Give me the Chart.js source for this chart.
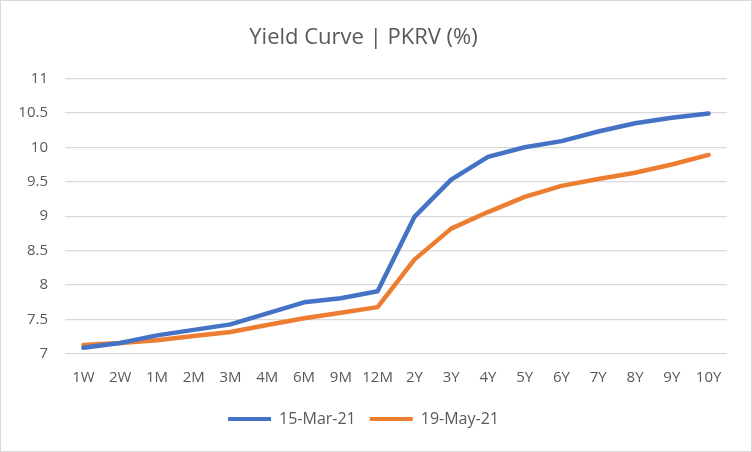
<!DOCTYPE html>
<html>
<head>
<meta charset="utf-8">
<script src="https://cdn.jsdelivr.net/npm/chart.js@4/dist/chart.umd.min.js"></script>
<style>
html,body{margin:0;padding:0;background:#fff;}
#wrap{width:752px;height:452px;position:relative;}
</style>
</head>
<body>
<div id="wrap"><canvas id="c" width="752" height="452"></canvas></div>
<script>
const categories = ["1W","2W","1M","2M","3M","4M","6M","9M","12M","2Y","3Y","4Y","5Y","6Y","7Y","8Y","9Y","10Y"];
const mar21 = [7.09,7.16,7.27,7.35,7.43,7.59,7.75,7.81,7.91,8.99,9.53,9.86,10.00,10.09,10.23,10.35,10.43,10.49];
const may21 = [7.13,7.16,7.20,7.26,7.32,7.42,7.52,7.60,7.68,8.37,8.82,9.06,9.28,9.44,9.54,9.63,9.75,9.89];
const seriesNames = ["15-Mar-21","19-May-21"];
const titleText = "Yield Curve | PKRV (%)";

const FONT = "'Open Sans', 'Liberation Sans', sans-serif";
const TXT = '#595959';

const borderPlugin = {
  id: 'outerBorder',
  afterDraw(chart){
    const ctx = chart.ctx;
    ctx.save();
    ctx.strokeStyle = '#d9d9d9';
    ctx.lineWidth = 1;
    ctx.strokeRect(0.5,0.5,chart.width-1,chart.height-1);
    ctx.restore();
  }
};

new Chart(document.getElementById('c'), {
  type: 'line',
  data: {
    labels: categories,
    datasets: [
      {label: seriesNames[0], data: mar21, borderColor:'#4472C4', backgroundColor:'#4472C4', borderWidth:4.5, pointRadius:0, tension:0, borderCapStyle:'round', borderJoinStyle:'round'},
      {label: seriesNames[1], data: may21, borderColor:'#ED7D31', backgroundColor:'#ED7D31', borderWidth:4.5, pointRadius:0, tension:0, borderCapStyle:'round', borderJoinStyle:'round'}
    ]
  },
  options: {
    responsive:false,
    animation:false,
    devicePixelRatio:1,
    layout:{padding:{left:0,right:25,top:0,bottom:15}},
    plugins:{
      title:{display:true,text:titleText,color:TXT,font:{family:FONT,size:22,weight:'normal'},padding:{top:25,bottom:27}},
      legend:{
        position:'bottom',
        labels:{
          color:TXT,
          font:{family:FONT,size:16},
          boxWidth:43,boxHeight:4,padding:14,
          generateLabels(chart){
            return chart.data.datasets.map((d,i)=>({text:d.label,fillStyle:d.borderColor,strokeStyle:d.borderColor,lineWidth:0,datasetIndex:i,fontColor:TXT}));
          }
        }
      },
      tooltip:{enabled:false}
    },
    scales:{
      x:{
        offset:true,
        grid:{display:false,drawTicks:false,offset:true},
        border:{display:false},
        ticks:{color:TXT,font:{family:FONT,size:15},padding:15,maxRotation:0,autoSkip:false},
        afterFit(s){s.height=43;}
      },
      y:{
        min:7,max:11,
        grid:{color:'#d9d9d9',lineWidth:1.3,drawTicks:false},
        border:{display:false},
        ticks:{stepSize:0.5,color:TXT,font:{family:FONT,size:15},padding:17,callback:(v)=>String(v)},
        afterFit(s){s.width=65;}
      }
    }
  },
  plugins:[borderPlugin]
});
</script>
</body>
</html>
